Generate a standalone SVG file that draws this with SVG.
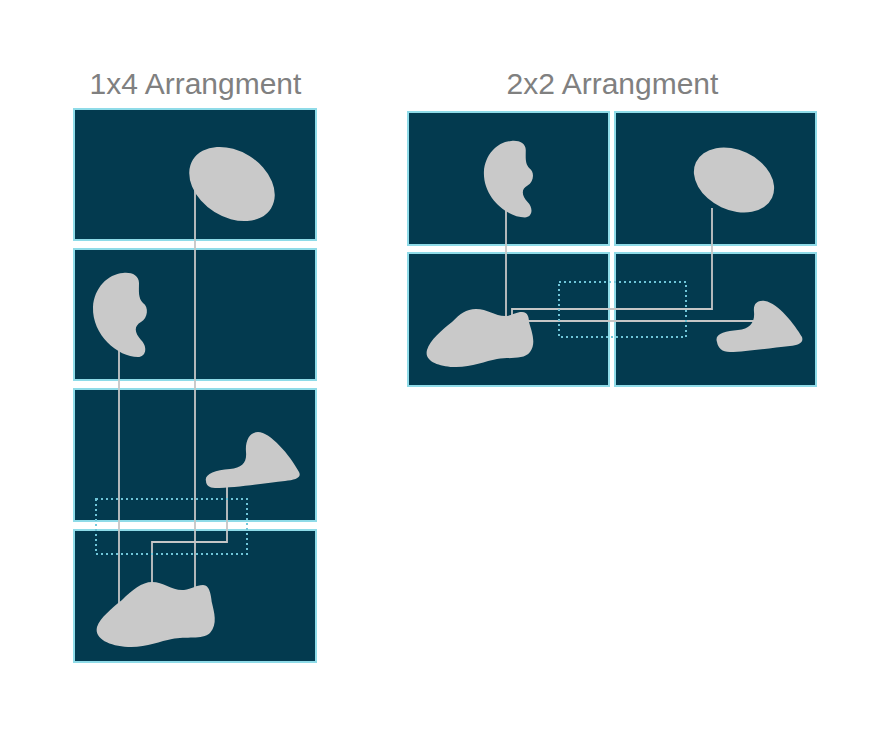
<svg xmlns="http://www.w3.org/2000/svg" width="886" height="737" viewBox="0 0 886 737">
<defs>
<style>
.title{font-family:"Liberation Sans",Arial,sans-serif;font-size:30px;fill:#808080;text-anchor:middle}
.panel{fill:#033a4f;stroke:#8fdbe8;stroke-width:2}
.shape{fill:#c9c9c9}
.conn{fill:none;stroke:#c6c6c6;stroke-width:1.8}
.dot{fill:none;stroke:#6fc5d8;stroke-width:2;stroke-dasharray:2 3}
</style>
<path id="kidney" d="M31,0 C39,-1 47,2 47,10 C47,18 46,25 51,30 C57,34 56,45 49,49 C42,53 42,59 49,67 C56,74 54,84 46,84 C26,84 0,62 1,34 C2,15 16,1 31,0 Z"/>
</defs>
<rect width="886" height="737" fill="#ffffff"/>

<g id="title-1x4"><text class="title" x="195.5" y="94">1x4 Arrangment</text></g>
<g id="title-2x2"><text class="title" x="612.5" y="94">2x2 Arrangment</text></g>

<g id="panels-1x4">
<rect id="p1" class="panel" x="74" y="109" width="242" height="131"/>
<rect id="p2" class="panel" x="74" y="249" width="242" height="131"/>
<rect id="p3" class="panel" x="74" y="389" width="242" height="132"/>
<rect id="p4" class="panel" x="74" y="530" width="242" height="132"/>
</g>
<g id="panels-2x2">
<rect id="q1" class="panel" x="408" y="112" width="201" height="133"/>
<rect id="q2" class="panel" x="615" y="112" width="201" height="133"/>
<rect id="q3" class="panel" x="408" y="253" width="201" height="133"/>
<rect id="q4" class="panel" x="615" y="253" width="201" height="133"/>
</g>

<g id="connectors">
<line class="conn" x1="195" y1="188" x2="195" y2="588"/>
<line class="conn" x1="119" y1="350" x2="119" y2="604"/>
<polyline class="conn" points="227,486 227,542 152,542 152,583"/>
<line class="conn" x1="506" y1="210" x2="506" y2="318"/>
<polyline class="conn" points="712,208 712,309 512,309 512,316"/>
<line class="conn" x1="526" y1="321" x2="756" y2="321"/>
</g>

<g id="dotted-regions">
<rect class="dot" x="96" y="499" width="151" height="55"/>
<rect class="dot" x="559" y="282" width="127" height="55"/>
</g>

<g id="shapes-1x4">
<ellipse id="ellipse-a" class="shape" cx="232" cy="184" rx="46" ry="33" transform="rotate(32 232 184)"/>
<use id="kidney-a" href="#kidney" class="shape" transform="translate(92,273)"/>
<path id="boomerang-a" class="shape" d="M206,481 C204,475 214,470 230,469 C242,468 247,463 246,452 C245,440 250,432 258,432 C270,432 290,455 299,472 C302,478 295,480 285,481 C265,483 235,488 215,488 C209,488 206,485 206,481 Z"/>
<path id="blob-a" class="shape" d="M97,627 C100,618 112,608 122,600 C132,590 142,582 152,582 C164,582 172,591 184,590 C192,589 196,585 203,585 C210,585 211,596 212,603 C214,612 218,624 210,633 C202,640 186,636 172,639 C160,641 145,648 128,647 C110,646 94,639 97,627 Z"/>
</g>

<g id="shapes-2x2">
<use id="kidney-b" href="#kidney" class="shape" transform="translate(483,141) scale(0.91)"/>
<ellipse id="ellipse-b" class="shape" cx="734" cy="180" rx="42" ry="30" transform="rotate(25 734 180)"/>
<path id="blob-b" class="shape" d="M427,350 C430,340 442,330 452,322 C460,314 466,309 476,309 C488,309 496,317 507,316 C513,315 516,312 522,312 C528,312 529,318 529,322 C531,330 537,343 530,352 C524,360 510,357 497,359 C485,361 470,368 453,367 C438,366 424,361 427,350 Z"/>
<path id="boomerang-b" class="shape" d="M717,342 C714,334 725,331 738,330 C750,329 755,322 754,312 C753,303 758,300 765,301 C778,303 795,325 802,337 C804,343 798,345 790,346 C770,348 745,352 730,352 C722,352 718,348 717,342 Z"/>
</g>
</svg>
